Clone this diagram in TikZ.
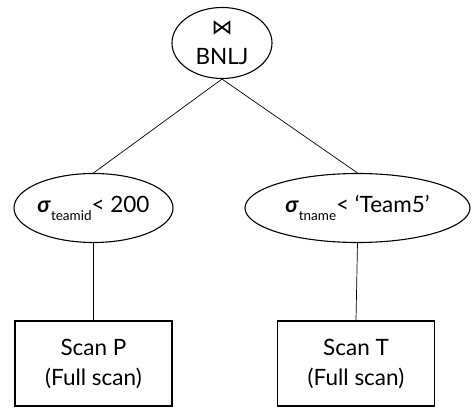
\documentclass[tikz,border=0pt]{standalone}
\usepackage{fontspec}
\setmainfont{Lato}
\newfontfamily\symfont{DejaVu Sans}
\usetikzlibrary{shapes.geometric}
\tikzset{op/.style={ellipse,draw,line width=1.1pt,inner sep=0pt,minimum height=69pt,align=center,font=\fontsize{22.5}{30}\selectfont},scanbox/.style={draw,line width=1.1pt,minimum width=157pt,minimum height=85pt,align=center,font=\fontsize{22.5}{30}\selectfont},edge/.style={line width=0.7pt}}
\newcommand{\selop}[2]{\textbf{\textit{σ}}\raisebox{-8pt}{\fontsize{13.5}{13.5}\selectfont #1}#2}

\begin{document}
\begin{tikzpicture}[x=1pt,y=1pt]
\useasboundingbox (0,0) rectangle (474,412);
\node[op,minimum width=100pt,minimum height=71pt] (bnlj) at (222,369) {{\symfont\fontsize{21}{21}\selectfont ⋈}\\BNLJ};
\node[op,minimum width=159pt] (selp) at (93.5,204) {\selop{teamid}{< 200}};
\node[op,minimum width=225pt] (selt) at (357.5,204) {\selop{tname}{< ‘Team5’}};
\node[scanbox] (scanp) at (93.5,48.5) {Scan P\\(Full scan)};
\node[scanbox] (scant) at (356,48.5) {Scan T\\(Full scan)};
\draw[edge] (bnlj.south)--(selp.north); \draw[edge] (bnlj.south)--(selt.north);
\draw[edge] (selp.south)--(scanp.north); \draw[edge] (selt.south)--(scant.north);
\end{tikzpicture}
\end{document}
